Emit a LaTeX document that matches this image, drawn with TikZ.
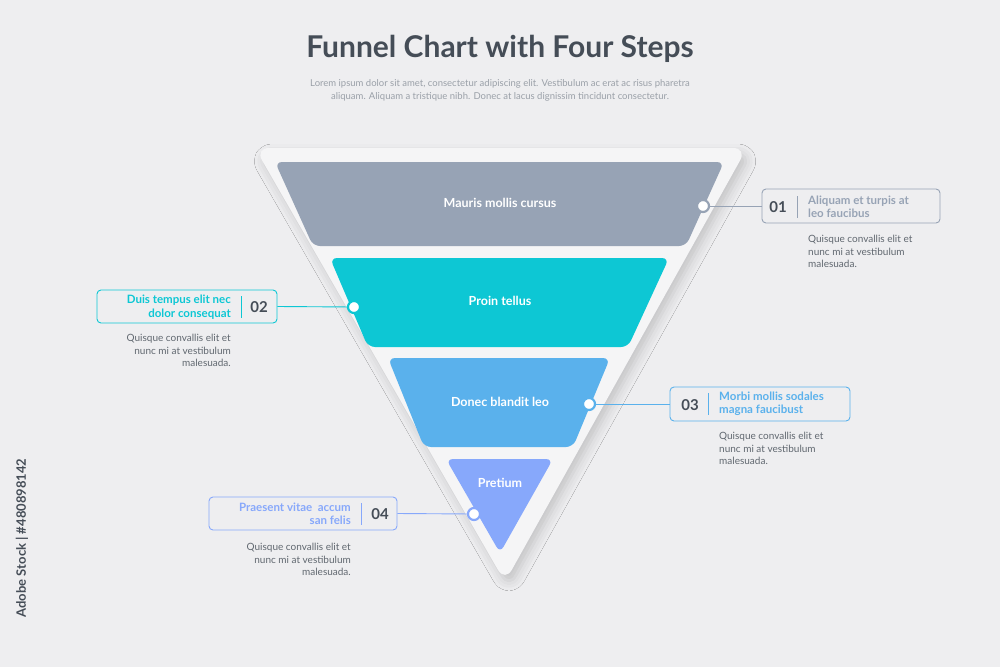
\documentclass[tikz,border=0pt]{standalone}
\usepackage{fontspec}
\setmainfont{Lato}
\usetikzlibrary{shadows.blur}
\definecolor{bg}{HTML}{EEEEF0}
\definecolor{dark}{HTML}{454D57}
\definecolor{sub}{HTML}{9AA0A8}
\definecolor{cA}{HTML}{97A3B5}
\definecolor{cB}{HTML}{0DC7D4}
\definecolor{cC}{HTML}{5AB1EC}
\definecolor{cD}{HTML}{87A8FB}
\tikzset{
 band/.style={fill=#1,rounded corners=7pt},
 bandtxt/.style={text=white,font=\fontsize{12.5}{14}\selectfont\bfseries},
 dot/.style={circle,draw=#1,line width=2.2pt,fill=white,minimum size=12pt,inner sep=0pt},
 cbox/.style={draw=#1,line width=0.9pt,rounded corners=4pt,fill=bg},
 num/.style={text=dark,font=\fontsize{15}{16}\selectfont\bfseries},
 ttl/.style={font=\fontsize{11.5}{13.5}\selectfont\bfseries,inner sep=0pt},
 body/.style={text=dark!85,font=\fontsize{10}{12.5}\selectfont,inner sep=0pt},
 link/.style={draw=#1,line width=0.9pt}
}
\begin{document}
\begin{tikzpicture}[x=1pt,y=-1pt]
\fill[bg] (0,0) rectangle (1000,667);
\useasboundingbox (0,0) rectangle (1000,667);
% titles
\node[text=dark,font=\fontsize{30}{32}\selectfont\bfseries] (title) at (500,49) {Funnel Chart with Four Steps};
\node[text=sub,font=\fontsize{9.5}{13}\selectfont,align=center] (subt) at (500,90) {Lorem ipsum dolor sit amet, consectetur adipiscing elit. Vestibulum ac erat ac risus pharetra\\aliquam. Aliquam a tristique nibh. Donec at lacus dignissim tincidunt consectetur.};
% base triangle
\fill[bg!60!white,rounded corners=14pt,blur shadow={shadow xshift=4pt,shadow yshift=-6pt,shadow blur radius=10pt,shadow opacity=18}] (255,148) -- (747,148) -- (505,582) -- cycle;
% bands
\fill[band=cA] (275,162) -- (724,162) -- (686,246) -- (313,246) -- cycle;
\fill[band=cB] (330,258) -- (669,258) -- (628,347) -- (368,347) -- cycle;
\fill[band=cC] (388,358) -- (610,358) -- (573,447) -- (424,447) -- cycle;
\fill[band=cD] (446,459) -- (553,459) -- (500,553) -- cycle;
\node[bandtxt] (t1) at (500,203) {Mauris mollis cursus};
\node[bandtxt] (t2) at (500,301) {Proin tellus};
\node[bandtxt] (t3) at (500,402) {Donec blandit leo};
\node[bandtxt] (t4) at (500,483) {Pretium};
% callout boxes
\node[cbox=cA,minimum width=178pt,minimum height=34pt] (b1) at (851,206) {};
\node[cbox=cB,minimum width=180pt,minimum height=33pt] (b2) at (187,306.5) {};
\node[cbox=cC,minimum width=180pt,minimum height=34pt] (b3) at (760,404) {};
\node[cbox=cD,minimum width=188pt,minimum height=33pt] (b4) at (303,513.5) {};
% dots and links
\node[dot=cA] (d1) at (703,206) {};
\node[dot=cB] (d2) at (354,307) {};
\node[dot=cC] (d3) at (589,404) {};
\node[dot=cD] (d4) at (474,514) {};
\draw[link=cA] (d1) -- (b1.west);
\draw[link=cB] (d2) -- (b2.east);
\draw[link=cC] (d3) -- (b3.west);
\draw[link=cD] (d4) -- (b4.east);
% callout 1
\node[num] (n1) at (778,207) {01};
\draw[cA,line width=0.9pt] (797,196) -- (797,218);
\node[ttl,text=cA,anchor=west,align=left] (h1) at (808,207) {Aliquam et turpis at\\leo faucibus};
\node[body,anchor=north west,align=left] (p1) at (808,235) {Quisque convallis elit et\\nunc mi at vestibulum\\malesuada.};
% callout 2
\node[num] (n2) at (259,307) {02};
\draw[cB,line width=0.9pt] (241,296) -- (241,318);
\node[ttl,text=cB,anchor=east,align=right] (h2) at (231,307) {Duis tempus elit nec\\dolor consequat};
\node[body,anchor=north east,align=right] (p2) at (231,334) {Quisque convallis elit et\\nunc mi at vestibulum\\malesuada.};
% callout 3
\node[num] (n3) at (690,405) {03};
\draw[cC,line width=0.9pt] (708,393) -- (708,415);
\node[ttl,text=cC,anchor=west,align=left] (h3) at (719,404) {Morbi mollis sodales\\magna faucibust};
\node[body,anchor=north west,align=left] (p3) at (719,432) {Quisque convallis elit et\\nunc mi at vestibulum\\malesuada.};
% callout 4
\node[num] (n4) at (380,514) {04};
\draw[cD,line width=0.9pt] (361,503) -- (361,525);
\node[ttl,text=cD,anchor=east,align=right] (h4) at (351,514) {Praesent vitae\ \ accum\\san felis};
\node[body,anchor=north east,align=right] (p4) at (351,543) {Quisque convallis elit et\\nunc mi at vestibulum\\malesuada.};
% stock label
\node[rotate=90,text=dark,font=\fontsize{13}{14}\selectfont\bfseries] (stock) at (22,538) {Adobe Stock | \#480898142};
\end{tikzpicture}
\end{document}
